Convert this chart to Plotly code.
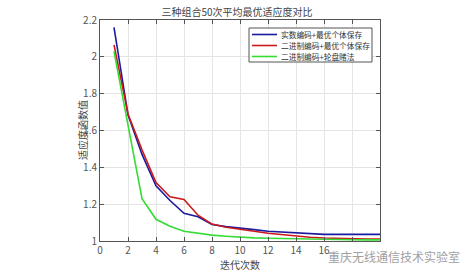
import plotly.graph_objects as go

iters = list(range(1, 21))
real_elite = [2.16, 1.685, 1.47, 1.30, 1.22, 1.15, 1.132, 1.09, 1.078, 1.072, 1.062, 1.053, 1.048, 1.045, 1.04, 1.036, 1.036, 1.036, 1.036, 1.036]
bin_elite = [2.065, 1.69, 1.495, 1.317, 1.24, 1.225, 1.14, 1.092, 1.075, 1.066, 1.053, 1.042, 1.034, 1.027, 1.02, 1.016, 1.013, 1.011, 1.01, 1.01]
bin_roulette = [2.03, 1.63, 1.23, 1.118, 1.08, 1.053, 1.042, 1.032, 1.026, 1.02, 1.017, 1.015, 1.013, 1.011, 1.01, 1.009, 1.008, 1.007, 1.006, 1.006]
names = ["实数编码+最优个体保存", "二进制编码+最优个体保存", "二进制编码+轮盘赌法"]
colors = ["#1a1aa0", "#cc1a1a", "#33dd33"]
xticks = list(range(0, 21, 2))
xlabels = ["0", "2", "4", "6", "8", "10", "12", "14", "16", "", ""]
yticks = [1, 1.2, 1.4, 1.6, 1.8, 2, 2.2]
ylabels = ["1", "1.2", "1.4", "1.6", "1.8", "2", "2.2"]

font = "Noto Sans CJK SC, Noto Sans, sans-serif"
W, H = 474, 274
L, R, T, B = 100, 94, 20, 33
fig = go.Figure()
for ys, n, c in zip([real_elite, bin_elite, bin_roulette], names, colors):
    fig.add_trace(go.Scatter(x=iters, y=ys, mode="lines", name=n,
                             line=dict(color=c, width=1.6), showlegend=False))

axis_common = dict(showline=True, linecolor="#555", linewidth=1, mirror="allticks",
                   ticks="inside", ticklen=4, tickcolor="#555",
                   showgrid=True, gridcolor="#e4e4e4", gridwidth=1, zeroline=False,
                   tickfont=dict(size=10, color="#555", family=font))
fig.update_xaxes(range=[0, 20], tickvals=xticks, ticktext=xlabels,
                 title=dict(text="迭代次数", font=dict(size=10, color="#444", family=font), standoff=2), **axis_common)
fig.update_yaxes(range=[1, 2.2], tickvals=yticks, ticktext=ylabels, **axis_common)

fig.update_layout(
    width=W, height=H,
    margin=dict(l=L, r=R, t=T, b=B, autoexpand=False),
    plot_bgcolor="white", paper_bgcolor="white",
    title=dict(text="三种组合50次平均最优适应度对比", x=0.5, xanchor="center", y=0.955, yanchor="middle",
               font=dict(size=10, color="#444", family=font)),
    showlegend=False,
)

# pixel -> paper helpers for legend/annotation placement
pw, ph = W - L - R, H - T - B
def px(x): return (x - L) / pw
def py(y): return (H - B - y) / ph

fig.add_annotation(xref="paper", yref="paper", x=px(82), y=py(130), xanchor="center", yanchor="middle",
                   text="适应度函数值", textangle=-90, showarrow=False,
                   font=dict(size=10, color="#444", family=font))

fig.add_shape(type="rect", xref="paper", yref="paper", x0=px(249), x1=px(372), y0=py(62), y1=py(28),
              line=dict(color="#555", width=1), fillcolor="white", layer="above")
for i, (n, c) in enumerate(zip(names, colors)):
    yy = 34.5 + i * 11
    fig.add_shape(type="line", xref="paper", yref="paper", x0=px(252), x1=px(277), y0=py(yy), y1=py(yy),
                  line=dict(color=c, width=1.6), layer="above")
    fig.add_annotation(xref="paper", yref="paper", x=px(279), y=py(yy), xanchor="left", yanchor="middle",
                       text=n, showarrow=False, font=dict(size=7.7, color="#333", family=font))

fig.add_annotation(xref="paper", yref="paper", x=px(462), y=py(256), xanchor="right", yanchor="middle",
                   text="重庆无线通信技术实验室", showarrow=False,
                   font=dict(size=12, color="#a0a0a0", family=font))
fig.write_html("out.html")
